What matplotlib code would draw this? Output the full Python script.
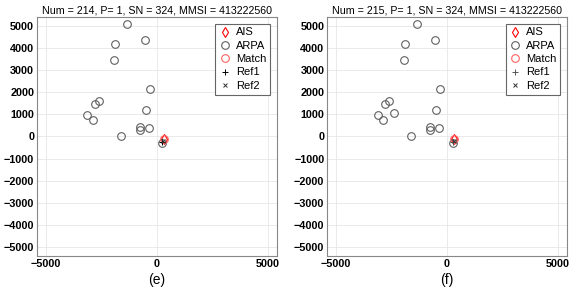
import numpy as np
import matplotlib.pyplot as plt

plt.rcParams['font.family'] = ['Liberation Sans', 'DejaVu Sans']

# ARPA targets (left frame, Num = 214)
arpa_x_e = [-1350, -540, -1880, -1955, -315, -2600, -2810, -480, -3130, -2870, -750, -750, -345, -1620, 250]
arpa_y_e = [5100, 4355, 4175, 3455, 2150, 1590, 1455, 1200, 990, 765, 420, 300, 375, 30, -300]
# ARPA targets (right frame, Num = 215)
arpa_x_f = [-1350, -540, -1880, -1955, -315, -2600, -2810, -480, -3130, -2870, -2400, -750, -750, -345, -1620, 250]
arpa_y_f = [5100, 4355, 4175, 3455, 2150, 1590, 1455, 1200, 990, 765, 1050, 420, 300, 375, 30, -300]

ais_e = (340, -120)
ais_f = (330, -110)
match_e = (330, -110)
match_f = (330, -100)
ref1_e = (250, -260)
ref1_f = (250, -270)
ref2_e = (290, -200)
ref2_f = (290, -200)

titles = ["Num = 214, P= 1, SN = 324, MMSI = 413222560",
          "Num = 215, P= 1, SN = 324, MMSI = 413222560"]
labels = ["(e)", "(f)"]
ticks = [-5000, -4000, -3000, -2000, -1000, 0, 1000, 2000, 3000, 4000, 5000]

fig = plt.figure(figsize=(5.78, 2.91), dpi=100)
ax1 = fig.add_axes([0.064, 0.12, 0.415, 0.822])
ax2 = fig.add_axes([0.566, 0.12, 0.415, 0.822])

panels = [
    (ax1, arpa_x_e, arpa_y_e, ais_e, match_e, ref1_e, ref2_e, 'black'),
    (ax2, arpa_x_f, arpa_y_f, ais_f, match_f, ref1_f, ref2_f, '#555555'),
]

for i, (ax, ax_x, ax_y, ais, match, r1, r2, rc) in enumerate(panels):
    ax.plot(ais[0], ais[1], 'd', mfc='none', mec='red', ms=5, mew=0.8, label='AIS')
    ax.plot(ax_x, ax_y, 'o', mfc='none', mec='#606060', ms=5.5, mew=0.8, label='ARPA')
    ax.plot(match[0], match[1], 'o', mfc='none', mec='#ff6060', ms=5.5, mew=0.8, label='Match')
    ax.plot(r1[0], r1[1], '+', color=rc, ms=4, mew=0.7, label='Ref1')
    ax.plot(r2[0], r2[1], 'x', color='#333333', ms=3, mew=0.7, label='Ref2')

    ax.set_xlim(-5400, 5400)
    ax.set_ylim(-5400, 5400)
    ax.set_xticks([-5000, 0, 5000])
    ax.set_yticks(ticks)
    ax.grid(True, color='#e6e6e6', linewidth=0.6)
    ax.set_axisbelow(True)
    ax.tick_params(labelsize=7.8, length=0, pad=2)
    for lab in ax.get_xticklabels() + ax.get_yticklabels():
        lab.set_fontweight('bold')
    for s in ax.spines.values():
        s.set_color('#888888')
        s.set_linewidth(0.8)
    ax.set_title(titles[i], fontsize=7.7, pad=2.5)
    ax.set_xlabel(labels[i], fontsize=10, labelpad=3)
    leg = ax.legend(loc='upper right', fontsize=8, handletextpad=0.5,
                    borderpad=0.35, labelspacing=0.3, fancybox=False,
                    framealpha=1, borderaxespad=0.6, handlelength=1.0)
    leg.get_frame().set_edgecolor('#666666')
    leg.get_frame().set_linewidth(0.8)

fig.savefig('out.png', dpi=100)
